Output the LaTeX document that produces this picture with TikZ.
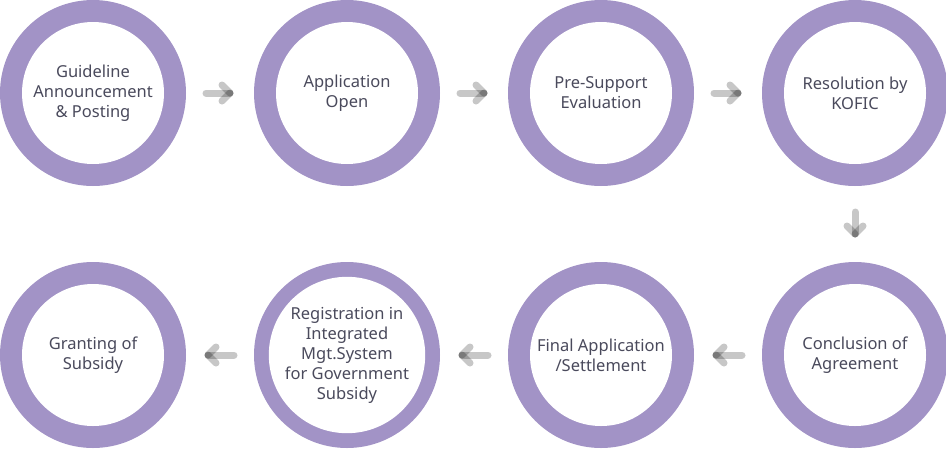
\documentclass[tikz,border=0pt]{standalone}
\usepackage{fontspec}
\setmainfont{Noto Sans}
\usetikzlibrary{calc}
\begin{document}
\begin{tikzpicture}[x=1pt,y=-1pt,
  ring/.style={circle,fill=ringc,minimum size=186pt,inner sep=0pt},
  hole/.style={circle,fill=white,minimum size=142pt,inner sep=0pt,align=center,text=txt,font=\fontsize{16.5}{20}\selectfont},
  ar/.style={line width=7pt,line cap=round,draw=black,draw opacity=0.22}]
\definecolor{ringc}{HTML}{A293C6}
\definecolor{txt}{HTML}{4A4A5C}
\useasboundingbox (0,0) rectangle (946,448);
\foreach \n/\x/\y in {a/93/93,b/347/93,c/601/93,d/855/93,e/855/355,f/601/355,g/347/355,h/93/355}{
  \node[ring] (r\n) at (\x,\y) {};
}
\node[hole] (a) at (ra) {Guideline\\Announcement\\\& Posting};
\node[hole] (b) at (rb) {Application\\Open};
\node[hole] (c) at (rc) {Pre-Support\\Evaluation};
\node[hole] (d) at (rd) {Resolution by\\KOFIC};
\node[hole] (e) at (re) {Conclusion of\\Agreement};
\node[hole] (f) at (rf) {Final Application\\/Settlement};
\node[hole] (g) at (rg) {Registration in\\Integrated\\Mgt.System\\for Government\\Subsidy};
\node[hole] (h) at (rh) {Granting of\\Subsidy};
% right arrows
\foreach \s/\t in {a/b,b/c,c/d}{
  \coordinate (m) at ($(r\s)!0.5!(r\t)$);
  \coordinate (t1) at ($(m)+(-14,0)$);
  \coordinate (t2) at ($(m)+(10,0)$);
  \draw[ar] (t1) -- (t2);
  \draw[ar] ($(t2)+(-8,-8)$) -- (t2);
  \draw[ar] ($(t2)+(-8,8)$) -- (t2);
}
% left arrows
\foreach \s/\t in {e/f,f/g,g/h}{
  \coordinate (m) at ($(r\s)!0.5!(r\t)$);
  \coordinate (t1) at ($(m)+(14,0)$);
  \coordinate (t2) at ($(m)+(-12,0)$);
  \draw[ar] (t1) -- (t2);
  \draw[ar] ($(t2)+(8,-8)$) -- (t2);
  \draw[ar] ($(t2)+(8,8)$) -- (t2);
}
% down arrow
\coordinate (m) at ($(rd)!0.5!(re)$);
\coordinate (t1) at ($(m)+(0,-12)$);
\coordinate (t2) at ($(m)+(0,10)$);
\draw[ar] (t1) -- (t2);
\draw[ar] ($(t2)+(-8,-8)$) -- (t2);
\draw[ar] ($(t2)+(8,-8)$) -- (t2);
\end{tikzpicture}
\end{document}
